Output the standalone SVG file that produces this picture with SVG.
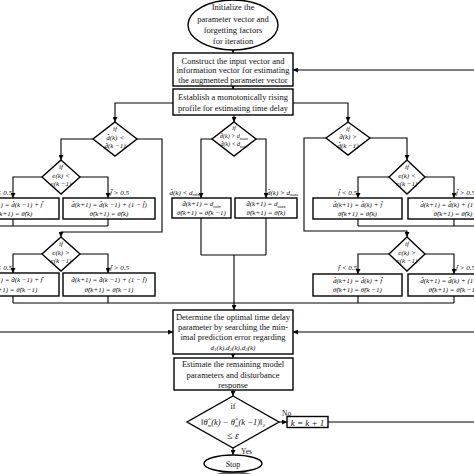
<svg xmlns="http://www.w3.org/2000/svg" width="474" height="474" viewBox="0 0 474 474">
<style>
.box{fill:#fff;stroke:#000;stroke-width:1.4}
.ln{fill:none;stroke:#000;stroke-width:1.1}
.t{font-family:"Liberation Serif","DejaVu Serif",serif;font-size:8.5px;text-anchor:middle;fill:#111}
.m{font-family:"Liberation Serif","DejaVu Serif",serif;font-size:7px;font-style:italic;text-anchor:middle;fill:#111}
.l{font-family:"Liberation Serif","DejaVu Serif",serif;font-size:7px;font-style:italic;fill:#111}
.s{font-size:5px}
</style>
<defs>
<marker id="ar" markerWidth="5" markerHeight="5" refX="5" refY="2.5" orient="auto" markerUnits="userSpaceOnUse">
<path d="M0,0 L5,2.5 L0,5 z" fill="#000"/>
</marker>
</defs>
<rect width="474" height="474" fill="#fff"/>
<path d="M222,0 Q233,5 246,0 z" fill="#555"/>
<path d="M216,474 Q233,468 252,474 z" fill="#666"/>

<g id="connectors" class="ln">
<path d="M233,50 V53" marker-end="url(#ar)"/>
<path d="M233,86 V89" marker-end="url(#ar)"/>
<path d="M474,70 H293" marker-end="url(#ar)"/>
<path d="M173,103 H115 V122" marker-end="url(#ar)"/>
<path d="M293,103 H348 V122" marker-end="url(#ar)"/>
<path d="M234,115 V122" marker-end="url(#ar)"/>
<path d="M93,139 H61 V160" marker-end="url(#ar)"/>
<path d="M137,139 H162 V232 H61 V237" marker-end="url(#ar)"/>
<path d="M42,177 H13 V198" marker-end="url(#ar)"/>
<path d="M80,177 H108 V198" marker-end="url(#ar)"/>
<path d="M13,219 V226 M108,219 V226 M108,226 H0"/>
<path d="M42,254 H13 V273" marker-end="url(#ar)"/>
<path d="M80,254 H108 V273" marker-end="url(#ar)"/>
<path d="M13,296 V303 M108,296 V303 M358,296 V303 M454,296 V303 M13,303 H454"/>
<path d="M212,139 H201 V198" marker-end="url(#ar)"/>
<path d="M256,139 H266 V198" marker-end="url(#ar)"/>
<path d="M201,218 V255 M266,218 V255 M201,255 H266"/>
<path d="M234,255 V310" marker-end="url(#ar)"/>
<path d="M326,138 H304 V231 H407 V237" marker-end="url(#ar)"/>
<path d="M370,138 H407 V160" marker-end="url(#ar)"/>
<path d="M389,177 H358 V198" marker-end="url(#ar)"/>
<path d="M425,177 H454 V198" marker-end="url(#ar)"/>
<path d="M358,219 V226 M454,219 V226 M358,226 H474"/>
<path d="M389,254 H358 V274" marker-end="url(#ar)"/>
<path d="M425,254 H454 V274" marker-end="url(#ar)"/>
<path d="M0,332 H173" marker-end="url(#ar)"/>
<path d="M474,332 H293" marker-end="url(#ar)"/>
<path d="M233,354 V358" marker-end="url(#ar)"/>
<path d="M233,390 V396" marker-end="url(#ar)"/>
<path d="M279,422 H287" marker-end="url(#ar)"/>
<path d="M328,422 H474"/>
<path d="M233,448 V455" marker-end="url(#ar)"/>
</g>

<g id="init">
<ellipse cx="233" cy="25" rx="45" ry="25" class="box"/>
<text class="t" x="233" y="10">Initialize the</text>
<text class="t" x="233" y="21.5">parameter vector and</text>
<text class="t" x="233" y="33">forgetting factors</text>
<text class="t" x="233" y="44">for iteration</text>
</g>
<g id="construct">
<rect x="173" y="53" width="120" height="33" class="box"/>
<text class="t" x="233" y="63.5">Construct the input vector and</text>
<text class="t" x="233" y="73">information vector for estimating</text>
<text class="t" x="233" y="82.5">the augmented parameter vector</text>
</g>
<g id="establish">
<rect x="173" y="89" width="120" height="26" class="box"/>
<text class="t" x="233" y="100">Establish a monotonically rising</text>
<text class="t" x="233" y="110.5">profile for estimating time delay</text>
</g>

<g id="dec1">
<path d="M115,122 L137,139 L115,156 L93,139 z" class="box"/>
<text class="m" x="115" y="131">if</text>
<text class="m" x="115" y="139.5">d̂(k) &lt;</text>
<text class="m" x="115" y="148">d̂(k −1)</text>
</g>
<g id="dec2">
<path d="M61,160 L80,177 L61,194 L42,177 z" class="box"/>
<text class="m" x="61" y="169">if</text>
<text class="m" x="61" y="177.5">e(k) &lt;</text>
<text class="m" x="61" y="186">e(k −1)</text>
</g>
<g id="dec3">
<path d="M61,237 L80,254 L61,271 L42,254 z" class="box"/>
<text class="m" x="61" y="246">if</text>
<text class="m" x="61" y="254.5">e(k) &gt;</text>
<text class="m" x="61" y="263">e(k −1)</text>
</g>
<g id="dec4">
<path d="M348,122 L370,138 L348,155 L326,138 z" class="box"/>
<text class="m" x="348" y="130.5">if</text>
<text class="m" x="348" y="139">d̂(k) &gt;</text>
<text class="m" x="348" y="147.5">d̂(k −1)</text>
</g>
<g id="dec5">
<path d="M407,160 L425,177 L407,194 L389,177 z" class="box"/>
<text class="m" x="407" y="169">if</text>
<text class="m" x="407" y="177.5">e(k) &lt;</text>
<text class="m" x="407" y="186">e(k −1)</text>
</g>
<g id="dec6">
<path d="M407,237 L425,254 L407,271 L389,254 z" class="box"/>
<text class="m" x="407" y="246">if</text>
<text class="m" x="407" y="254.5">e(k) &gt;</text>
<text class="m" x="407" y="263">e(k −1)</text>
</g>
<g id="dec7">
<path d="M234,122 L256,139 L234,156 L212,139 z" class="box"/>
<text class="m" x="234" y="130" style="font-size:6.5px">if</text>
<text class="m" x="234" y="138" style="font-size:6px">d̂(k) &gt; d<tspan class="s" dy="1.5">max</tspan></text>
<text class="m" x="234" y="146" style="font-size:6px">d̂(k) &lt; d<tspan class="s" dy="1.5">min</tspan></text>
</g>

<g id="labels">
<text class="l" x="12" y="194.5" text-anchor="end">f̂ &lt; 0.5</text>
<text class="l" x="110" y="194.5">f̂ &gt; 0.5</text>
<text class="l" x="200" y="194.5" text-anchor="end">d̂(k) &lt; d<tspan class="s" dy="1.5">min</tspan></text>
<text class="l" x="267" y="194.5">d̂(k) &gt; d<tspan class="s" dy="1.5">max</tspan></text>
<text class="l" x="357" y="194.5" text-anchor="end">f̂ &lt; 0.5</text>
<text class="l" x="456" y="194.5">f̂ &gt; 0.5</text>
<text class="l" x="12" y="270" text-anchor="end">f̂ &lt; 0.5</text>
<text class="l" x="110" y="270">f̂ &gt; 0.5</text>
<text class="l" x="357" y="270" text-anchor="end">f̂ &lt; 0.5</text>
<text class="l" x="456" y="270">f̂ &gt; 0.5</text>
</g>

<g id="boxC">
<rect x="-33" y="198" width="92" height="21" class="box"/>
<text class="m" x="13" y="206.5">d̂(k+1) = d̂(k −1) + f̂</text>
<text class="m" x="13" y="215.5">θ̂(k+1) = θ̂(k)</text>
</g>
<g id="boxD">
<rect x="63" y="198" width="92" height="21" class="box"/>
<text class="m" x="109" y="206.5">d̂(k+1) = d̂(k −1) + (1 − f̂)</text>
<text class="m" x="109" y="215.5">θ̂(k+1) = θ̂(k)</text>
</g>
<g id="boxE">
<rect x="172" y="198" width="59" height="20" class="box"/>
<text class="m" x="201.5" y="206">d̂(k+1) = d<tspan class="s" dy="1.5">min</tspan></text>
<text class="m" x="201.5" y="215">θ̂(k+1) = θ̂(k −1)</text>
</g>
<g id="boxF">
<rect x="235" y="198" width="62" height="20" class="box"/>
<text class="m" x="266" y="206">d̂(k+1) = d<tspan class="s" dy="1.5">max</tspan></text>
<text class="m" x="266" y="215">θ̂(k+1) = θ̂(k)</text>
</g>
<g id="boxA">
<rect x="313" y="198" width="89" height="21" class="box"/>
<text class="m" x="357.5" y="206.5">d̂(k+1) = d̂(k) + f̂</text>
<text class="m" x="357.5" y="215.5">θ̂(k+1) = θ̂(k)</text>
</g>
<g id="boxB">
<rect x="408" y="198" width="90" height="21" class="box"/>
<text class="m" x="453" y="206.5">d̂(k+1) = d̂(k) + (1 − f̂)</text>
<text class="m" x="453" y="215.5">θ̂(k+1) = θ̂(k)</text>
</g>
<g id="boxC2">
<rect x="-33" y="273" width="92" height="23" class="box"/>
<text class="m" x="13" y="282">d̂(k+1) = d̂(k −1) + f̂</text>
<text class="m" x="13" y="291.5">θ̂(k+1) = θ̂(k −1)</text>
</g>
<g id="boxD2">
<rect x="63" y="273" width="92" height="23" class="box"/>
<text class="m" x="109" y="282">d̂(k+1) = d̂(k −1) + (1 − f̂)</text>
<text class="m" x="109" y="291.5">θ̂(k+1) = θ̂(k −1)</text>
</g>
<g id="boxA2">
<rect x="313" y="274" width="89" height="22" class="box"/>
<text class="m" x="357.5" y="282.5">d̂(k+1) = d̂(k) + f̂</text>
<text class="m" x="357.5" y="291.5">θ̂(k+1) = θ̂(k −1)</text>
</g>
<g id="boxB2">
<rect x="408" y="274" width="90" height="22" class="box"/>
<text class="m" x="453" y="282.5">d̂(k+1) = d̂(k) + (1 − f̂)</text>
<text class="m" x="453" y="291.5">θ̂(k+1) = θ̂(k −1)</text>
</g>

<g id="determine">
<rect x="173" y="310" width="120" height="44" class="box"/>
<text class="t" x="233" y="319.5">Determine the optimal time delay</text>
<text class="t" x="233" y="329.5">parameter by searching the min-</text>
<text class="t" x="233" y="339.5">imal prediction error regarding</text>
<text class="m" x="233" y="349.5">d<tspan class="s" dy="1.5">1</tspan><tspan dy="-1.5">(k),d</tspan><tspan class="s" dy="1.5">2</tspan><tspan dy="-1.5">(k),d</tspan><tspan class="s" dy="1.5">3</tspan><tspan dy="-1.5">(k)</tspan></text>
</g>
<g id="estimate">
<rect x="174" y="358" width="119" height="32" class="box"/>
<text class="t" x="233" y="367">Estimate the remaining model</text>
<text class="t" x="233" y="377.5">parameters and disturbance</text>
<text class="t" x="233" y="388">response</text>
</g>
<g id="converge">
<path d="M233,396 L279,422 L233,448 L187,422 z" class="box"/>
<text class="t" x="233" y="409" style="font-size:8px">if</text>
<text class="m" x="233" y="425" style="font-size:8.5px">‖θ̂<tspan class="s" dy="1.5">m</tspan><tspan dy="-1.5">(k) − θ̂</tspan><tspan class="s" dy="1.5">m</tspan><tspan dy="-1.5">(k −1)‖</tspan><tspan class="s" dy="1.5">2</tspan></text>
<text class="m" x="233" y="438.5" style="font-size:10px">≤ ε</text>
<text class="t" x="282" y="416" style="text-anchor:start;font-size:7.5px">No</text>
<text class="t" x="241" y="454" style="text-anchor:start;font-size:7.5px">Yes</text>
</g>
<g id="increment">
<rect x="287" y="416.5" width="41" height="11" class="box"/>
<text class="m" x="307.5" y="425.5" style="font-size:9px">k = k + 1</text>
</g>
<g id="stop">
<ellipse cx="233" cy="463.5" rx="29" ry="8.5" class="box"/>
<text class="t" x="233" y="466.5" style="font-size:8px">Stop</text>
</g>
</svg>
